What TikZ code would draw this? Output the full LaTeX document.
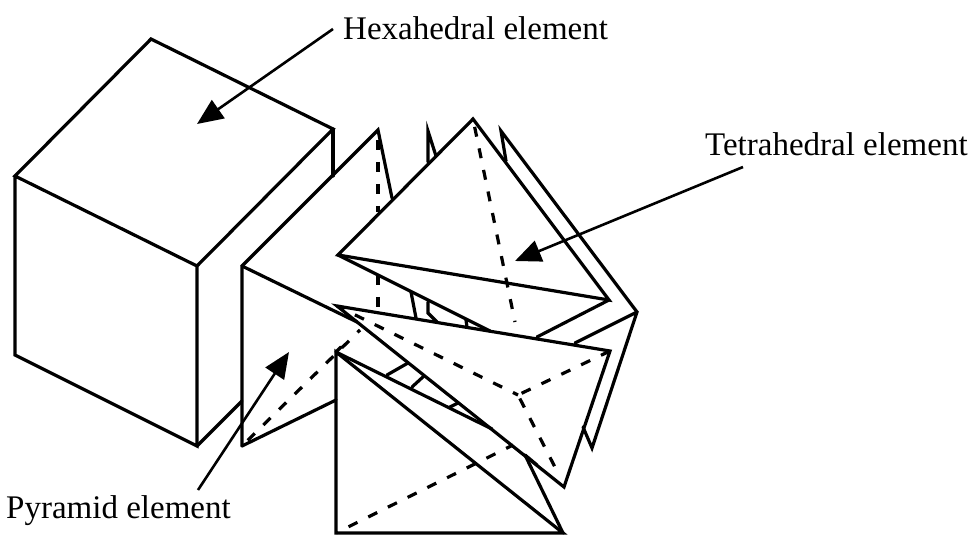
\documentclass[tikz,border=0pt]{standalone}
\usepackage{fontspec}
\setmainfont{Liberation Serif}
\usetikzlibrary{arrows.meta}
\tikzset{
  edge/.style={line width=3.2pt,line join=miter,line cap=round},
  hidden/.style={line width=3.2pt,dash pattern=on 10pt off 12pt},
  leader/.style={line width=2.6pt,-{Triangle[length=26pt,width=22pt]}},
  caption/.style={font=\fontsize{33pt}{36pt}\selectfont,inner sep=0pt,anchor=base west}
}
\begin{document}
\begin{tikzpicture}[x=1pt,y=-1pt]
\useasboundingbox (0,0) rectangle (969,553);
% labels
\node[caption] (hexlabel) at (343,40) {Hexahedral element};
\node[caption] (tetlabel) at (705,156) {Tetrahedral element};
\node[caption] (pyrlabel) at (6,518) {Pyramid element};
% cube
\coordinate (ct) at (151,39); \coordinate (cr) at (333,129);
\coordinate (cf) at (197,266); \coordinate (cl) at (15,176);
\coordinate (cbl) at (15,355); \coordinate (cbf) at (197,446);
\draw[edge] (cf) -- (cl) -- (ct) -- (cr) -- (cf) -- (cbf) -- (cbl) -- (cl);
\draw[edge] (cr) -- (333,176);
\draw[edge] (cbf) -- (242,401);
% pyramid
\coordinate (pa) at (242,266); \coordinate (pb) at (378,130);
\coordinate (pc) at (242,446); \coordinate (pd) at (360,330);
\draw[edge] (pc) -- (pa) -- (pb) -- (392,198);
\draw[edge] (pa) -- (357,322);
\draw[edge] (pc) -- (336,400);
\draw[hidden,dash phase=-8pt] (pc) -- (pd);
\draw[hidden,dash phase=-10pt] (pb) -- (378,212);
\draw[hidden] (378,275) -- (378,308);
% spikes behind
\draw[edge] (428,162) -- (428,131) -- (436,156);
\coordinate (ra) at (501,131); \coordinate (rb) at (637,312); \coordinate (rc) at (592,448);
\draw[edge] (506,161) -- (ra) -- (rb) -- (rc) -- (583,427);
\draw[edge] (rb) -- (575,343);
% upper tetrahedron
\coordinate (ta) at (473,119); \coordinate (tl) at (338,255); \coordinate (tr) at (609,300);
\draw[edge] (tl) -- (ta) -- (tr) -- cycle;
\draw[edge] (tl) -- (490,331);
\draw[edge] (tr) -- (537,337);
\draw[hidden,dash phase=-8pt] (ta) -- (515,322);
\draw[edge] (411,292) -- (416,318);
\draw[edge] (428,302) -- (428,313) -- (437,322);
\draw[edge] (466,320) -- (467,327);
% middle tetrahedron
\coordinate (ma) at (337,306); \coordinate (mb) at (610,351);
\coordinate (mc) at (564,487); \coordinate (md) at (518,395);
\draw[edge] (ma) -- (mb) -- (mc) -- cycle;
\draw[hidden,dash phase=-20pt] (ma) -- (md);
\draw[hidden] (mb) -- (md);
\draw[hidden,dash phase=-4pt] (md) -- (558,473);
% bottom tetrahedron
\coordinate (ba) at (336,352); \coordinate (bb) at (563,533); \coordinate (bc) at (336,533);
\draw[edge] (ba) -- (bb) -- (bc) -- cycle;
\draw[edge] (ba) -- (492,429);
\draw[edge] (525,455) -- (bb);
\draw[edge] (525,455) -- (537,465);
\draw[hidden,dash phase=-14pt] (bc) -- (513,445);
\draw[edge] (ba) -- (341,347);
\draw[edge] (387,375) -- (408,363);
\draw[edge] (412,387) -- (424,376);
\draw[edge] (450,407) -- (458,403);
% leaders
\coordinate (hs) at (333,29); \coordinate (he) at (197,124);
\coordinate (ts) at (743,167); \coordinate (te) at (515,261);
\coordinate (ps) at (198,490); \coordinate (pe) at (289,352);
\draw[leader] (hs) -- (he);
\draw[leader] (ts) -- (te);
\draw[leader] (ps) -- (pe);
\end{tikzpicture}
\end{document}
